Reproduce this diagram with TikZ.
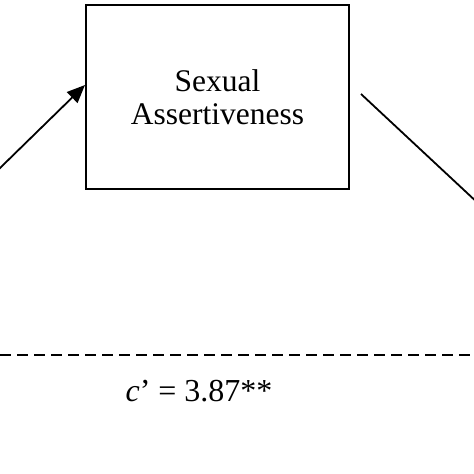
\documentclass[tikz,border=0pt]{standalone}
\usepackage{fontspec}
\setmainfont{Liberation Serif}
\usetikzlibrary{arrows.meta,positioning}

\begin{document}
\begin{tikzpicture}[x=1pt, y=-1pt,
    box/.style={draw, line width=2pt, minimum width=263pt, minimum height=184pt,
        align=center, font=\fontsize{31.5}{33}\selectfont},
    path/.style={line width=1.8pt},
    lbl/.style={font=\fontsize{32}{34}\selectfont}
]
    \useasboundingbox (0,0) rectangle (474,474);

    % Mediator box
    \node[box] (sa) at (217.5,97) {Sexual\\Assertiveness};

    % Paths a and b (their outer ends run off the picture)
    \coordinate (xin) at (-2,170);
    \coordinate (yout) at (480,205);
    \draw[path, -{Triangle[length=18pt,width=15pt]}] (xin) -- ([yshift=12pt]sa.west);
    \draw[path] ([xshift=11pt,yshift=3pt]sa.east) -- (yout);

    % Direct path c'
    \coordinate (dl) at (0,355);
    \coordinate (dr) at (474,355);
    \draw[path, dash pattern=on 11pt off 6pt] (dl) -- (dr);
    \node[lbl] (cp) at (199,391) {\textit{c}’ = 3.87**};
\end{tikzpicture}
\end{document}
